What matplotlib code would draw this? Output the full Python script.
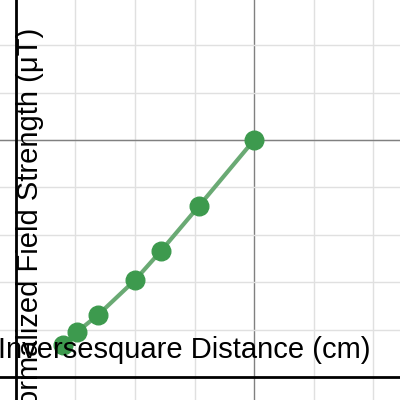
import matplotlib
matplotlib.use("Agg")
import matplotlib.pyplot as plt
import numpy as np

x = [0.197, 0.256, 0.345, 0.5, 0.609, 0.769, 1.0]
y = [0.135, 0.19, 0.262, 0.409, 0.532, 0.722, 1.0]

plt.rcParams['font.family'] = ['Liberation Sans', 'DejaVu Sans']
fig = plt.figure(figsize=(4, 4), dpi=100)
ax = fig.add_axes([0, 0, 1, 1])
ax.set_xlim(-0.067, 1.613)
ax.set_ylim(-0.097, 1.591)
for v in np.arange(-0.25, 1.7, 0.25):
    ax.axvline(v, color='#e0e0e0' if abs(v % 1) > 1e-9 else '#808080', lw=1, zorder=0)
for v in np.arange(-0.2, 1.7, 0.2):
    ax.axhline(v, color='#e0e0e0', lw=1, zorder=0)
ax.axhline(1, color='#808080', lw=1, zorder=0)
ax.axvline(0, color='black', lw=2, zorder=1)
ax.axhline(0, color='black', lw=2, zorder=1)
ax.plot(x, y, color='#6aaa74', lw=3, zorder=2)
ax.scatter(x, y, s=180, color='#3d9a4e', zorder=3)
ax.axis('off')
fig.text(370/400, 1-350/400, "Inversesquare Distance (cm)", ha='right', va='center', fontsize=21)
fig.text(30/400, 1-28/400, "Normalized Field Strength (μT)", ha='center', va='top', rotation=90, fontsize=21)
fig.savefig("out.png")
